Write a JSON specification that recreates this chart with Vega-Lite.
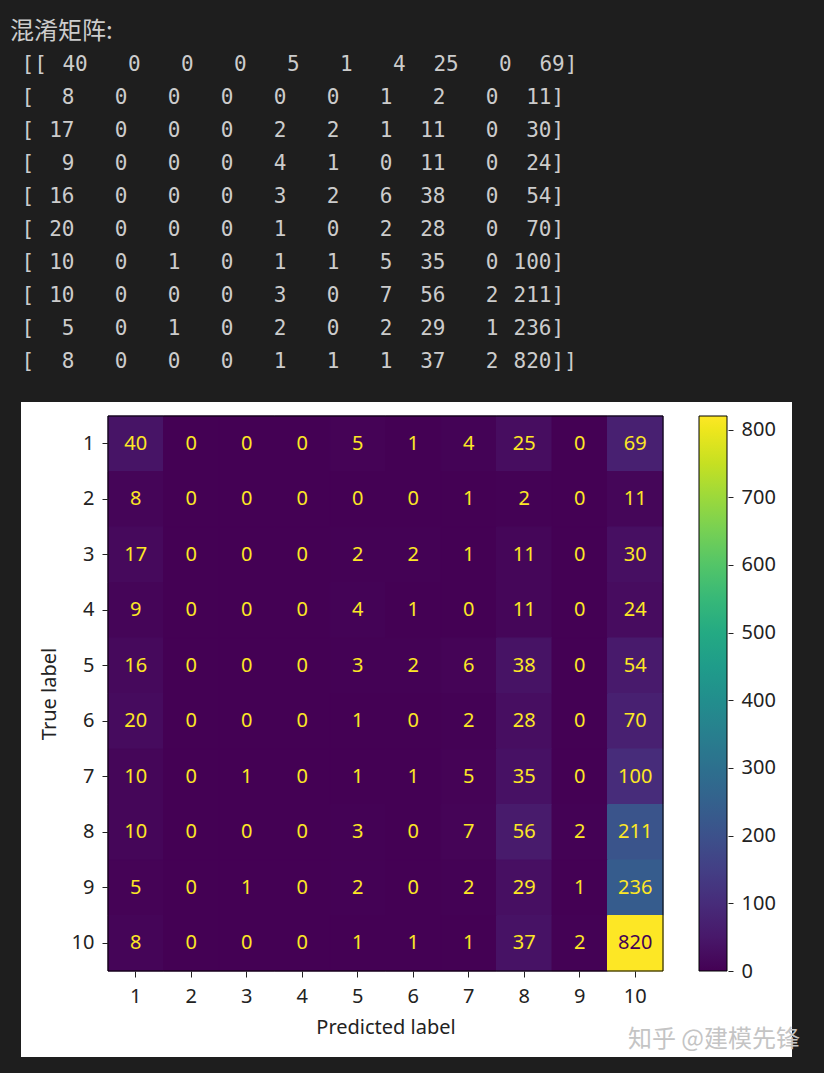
{
  "$schema": "https://vega.github.io/schema/vega-lite/v6.json",
  "width": 555,
  "height": 555,
  "autosize": "none",
  "padding": {"left": 108, "top": 416, "right": 161, "bottom": 102},
  "background": "#1e1e1e",
  "config": {
    "view": {"stroke": null},
    "axis": {"grid": false, "labelFont": "Noto Sans", "titleFont": "Noto Sans", "labelColor": "#222222", "titleColor": "#222222", "tickColor": "#222222", "labelFontSize": 20, "titleFontSize": 20, "titleFontWeight": "normal", "tickSize": 6, "domain": false}
  },
  "datasets": {
    "cm": [
      {"t":1,"p":1,"n":40},{"t":1,"p":2,"n":0},{"t":1,"p":3,"n":0},{"t":1,"p":4,"n":0},{"t":1,"p":5,"n":5},{"t":1,"p":6,"n":1},{"t":1,"p":7,"n":4},{"t":1,"p":8,"n":25},{"t":1,"p":9,"n":0},{"t":1,"p":10,"n":69},
      {"t":2,"p":1,"n":8},{"t":2,"p":2,"n":0},{"t":2,"p":3,"n":0},{"t":2,"p":4,"n":0},{"t":2,"p":5,"n":0},{"t":2,"p":6,"n":0},{"t":2,"p":7,"n":1},{"t":2,"p":8,"n":2},{"t":2,"p":9,"n":0},{"t":2,"p":10,"n":11},
      {"t":3,"p":1,"n":17},{"t":3,"p":2,"n":0},{"t":3,"p":3,"n":0},{"t":3,"p":4,"n":0},{"t":3,"p":5,"n":2},{"t":3,"p":6,"n":2},{"t":3,"p":7,"n":1},{"t":3,"p":8,"n":11},{"t":3,"p":9,"n":0},{"t":3,"p":10,"n":30},
      {"t":4,"p":1,"n":9},{"t":4,"p":2,"n":0},{"t":4,"p":3,"n":0},{"t":4,"p":4,"n":0},{"t":4,"p":5,"n":4},{"t":4,"p":6,"n":1},{"t":4,"p":7,"n":0},{"t":4,"p":8,"n":11},{"t":4,"p":9,"n":0},{"t":4,"p":10,"n":24},
      {"t":5,"p":1,"n":16},{"t":5,"p":2,"n":0},{"t":5,"p":3,"n":0},{"t":5,"p":4,"n":0},{"t":5,"p":5,"n":3},{"t":5,"p":6,"n":2},{"t":5,"p":7,"n":6},{"t":5,"p":8,"n":38},{"t":5,"p":9,"n":0},{"t":5,"p":10,"n":54},
      {"t":6,"p":1,"n":20},{"t":6,"p":2,"n":0},{"t":6,"p":3,"n":0},{"t":6,"p":4,"n":0},{"t":6,"p":5,"n":1},{"t":6,"p":6,"n":0},{"t":6,"p":7,"n":2},{"t":6,"p":8,"n":28},{"t":6,"p":9,"n":0},{"t":6,"p":10,"n":70},
      {"t":7,"p":1,"n":10},{"t":7,"p":2,"n":0},{"t":7,"p":3,"n":1},{"t":7,"p":4,"n":0},{"t":7,"p":5,"n":1},{"t":7,"p":6,"n":1},{"t":7,"p":7,"n":5},{"t":7,"p":8,"n":35},{"t":7,"p":9,"n":0},{"t":7,"p":10,"n":100},
      {"t":8,"p":1,"n":10},{"t":8,"p":2,"n":0},{"t":8,"p":3,"n":0},{"t":8,"p":4,"n":0},{"t":8,"p":5,"n":3},{"t":8,"p":6,"n":0},{"t":8,"p":7,"n":7},{"t":8,"p":8,"n":56},{"t":8,"p":9,"n":2},{"t":8,"p":10,"n":211},
      {"t":9,"p":1,"n":5},{"t":9,"p":2,"n":0},{"t":9,"p":3,"n":1},{"t":9,"p":4,"n":0},{"t":9,"p":5,"n":2},{"t":9,"p":6,"n":0},{"t":9,"p":7,"n":2},{"t":9,"p":8,"n":29},{"t":9,"p":9,"n":1},{"t":9,"p":10,"n":236},
      {"t":10,"p":1,"n":8},{"t":10,"p":2,"n":0},{"t":10,"p":3,"n":0},{"t":10,"p":4,"n":0},{"t":10,"p":5,"n":1},{"t":10,"p":6,"n":1},{"t":10,"p":7,"n":1},{"t":10,"p":8,"n":37},{"t":10,"p":9,"n":2},{"t":10,"p":10,"n":820}
    ],
    "brackets": [
      {"t":1,"open":"[[","close":"]"},{"t":2,"open":"[","close":"]"},{"t":3,"open":"[","close":"]"},{"t":4,"open":"[","close":"]"},{"t":5,"open":"[","close":"]"},
      {"t":6,"open":"[","close":"]"},{"t":7,"open":"[","close":"]"},{"t":8,"open":"[","close":"]"},{"t":9,"open":"[","close":"]"},{"t":10,"open":"[","close":"]]"}
    ],
    "heading": [{"s": "混淆矩阵:"}],
    "watermark": [{"s": "知乎 @建模先锋"}],
    "cbar": [{"lo": 0, "hi": 820}]
  },
  "layer": [
    {
      "data": {"name": "watermark"},
      "mark": {"type": "rect", "fill": "#ffffff"},
      "encoding": {
        "x": {"datum": 0, "type": "quantitative", "scale": {"domain": [0, 1], "range": [-87, 684], "nice": false, "zero": false}, "axis": null},
        "x2": {"datum": 1},
        "y": {"datum": 0, "type": "quantitative", "scale": {"domain": [0, 1], "range": [-14, 641], "nice": false, "zero": false}, "axis": null},
        "y2": {"datum": 1}
      }
    },
    {
      "data": {"name": "watermark"},
      "mark": {"type": "text", "align": "right", "baseline": "middle", "font": "Noto Sans CJK SC", "fontSize": 24, "fill": "#c4c4c4"},
      "encoding": {
        "x": {"datum": 1.0104, "type": "quantitative", "scale": {"domain": [0, 1], "range": [-87, 684], "nice": false, "zero": false}, "axis": null},
        "y": {"datum": 0.974, "type": "quantitative", "scale": {"domain": [0, 1], "range": [-14, 641], "nice": false, "zero": false}, "axis": null},
        "text": {"field": "s"}
      }
    },
    {
      "data": {"name": "heading"},
      "mark": {"type": "text", "align": "left", "baseline": "middle", "font": "Noto Sans CJK SC", "fontSize": 24, "fill": "#cccccc", "dx": -64.5},
      "encoding": {
        "x": {"datum": 1, "type": "ordinal", "scale": {"type": "point", "domain": [1,2,3,4,5,6,7,8,9,10], "range": [-33.5, 443.5], "padding": 0}, "axis": null},
        "y": {"datum": 0, "type": "ordinal", "scale": {"type": "point", "domain": [0,1,2,3,4,5,6,7,8,9,10], "range": [-384.5, -54.5], "padding": 0}, "axis": null},
        "text": {"field": "s"}
      }
    },
    {
      "data": {"name": "cm"},
      "transform": [{"filter": "datum.t == 1"}],
      "mark": {"type": "text", "align": "right", "baseline": "middle", "font": "DejaVu Sans Mono", "fontSize": 21, "fill": "#cccccc", "dx": 13.25},
      "encoding": {
        "x": {"field": "p", "type": "ordinal", "scale": {"type": "point", "domain": [1,2,3,4,5,6,7,8,9,10], "range": [-33.5, 443.5], "padding": 0}, "axis": null},
        "y": {"field": "t", "type": "ordinal", "scale": {"type": "point", "domain": [0,1,2,3,4,5,6,7,8,9,10], "range": [-384.5, -54.5], "padding": 0}, "axis": null},
        "text": {"field": "n"}
      }
    },
    {
      "data": {"name": "cm"},
      "transform": [{"filter": "datum.t > 1"}],
      "mark": {"type": "text", "align": "right", "baseline": "middle", "font": "DejaVu Sans Mono", "fontSize": 21, "fill": "#cccccc"},
      "encoding": {
        "x": {"field": "p", "type": "ordinal", "scale": {"type": "point", "domain": [1,2,3,4,5,6,7,8,9,10], "range": [-33.5, 443.5], "padding": 0}, "axis": null},
        "y": {"field": "t", "type": "ordinal", "scale": {"type": "point", "domain": [0,1,2,3,4,5,6,7,8,9,10], "range": [-384.5, -54.5], "padding": 0}, "axis": null},
        "text": {"field": "n"}
      }
    },
    {
      "data": {"name": "brackets"},
      "mark": {"type": "text", "align": "left", "baseline": "middle", "font": "DejaVu Sans Mono", "fontSize": 21, "fill": "#cccccc", "dx": -53},
      "encoding": {
        "x": {"datum": 1, "type": "ordinal", "scale": {"type": "point", "domain": [1,2,3,4,5,6,7,8,9,10], "range": [-33.5, 443.5], "padding": 0}, "axis": null},
        "y": {"field": "t", "type": "ordinal", "scale": {"type": "point", "domain": [0,1,2,3,4,5,6,7,8,9,10], "range": [-384.5, -54.5], "padding": 0}, "axis": null},
        "text": {"field": "open"}
      }
    },
    {
      "data": {"name": "brackets"},
      "transform": [{"filter": "datum.t == 1"}],
      "mark": {"type": "text", "align": "left", "baseline": "middle", "font": "DejaVu Sans Mono", "fontSize": 21, "fill": "#cccccc", "dx": 13.25},
      "encoding": {
        "x": {"datum": 10, "type": "ordinal", "scale": {"type": "point", "domain": [1,2,3,4,5,6,7,8,9,10], "range": [-33.5, 443.5], "padding": 0}, "axis": null},
        "y": {"field": "t", "type": "ordinal", "scale": {"type": "point", "domain": [0,1,2,3,4,5,6,7,8,9,10], "range": [-384.5, -54.5], "padding": 0}, "axis": null},
        "text": {"field": "close"}
      }
    },
    {
      "data": {"name": "brackets"},
      "transform": [{"filter": "datum.t > 1"}],
      "mark": {"type": "text", "align": "left", "baseline": "middle", "font": "DejaVu Sans Mono", "fontSize": 21, "fill": "#cccccc"},
      "encoding": {
        "x": {"datum": 10, "type": "ordinal", "scale": {"type": "point", "domain": [1,2,3,4,5,6,7,8,9,10], "range": [-33.5, 443.5], "padding": 0}, "axis": null},
        "y": {"field": "t", "type": "ordinal", "scale": {"type": "point", "domain": [0,1,2,3,4,5,6,7,8,9,10], "range": [-384.5, -54.5], "padding": 0}, "axis": null},
        "text": {"field": "close"}
      }
    },
    {
      "data": {"name": "cm"},
      "mark": {"type": "rect", "strokeWidth": 1, "stroke": {"expr": "scale('color', datum.n)"}},
      "encoding": {
        "x": {"field": "p", "type": "ordinal", "scale": {"type": "band", "domain": [1,2,3,4,5,6,7,8,9,10], "padding": 0},
              "axis": {"orient": "bottom", "zindex": 2, "title": "Predicted label", "labelAngle": 0, "labelPadding": 9, "titlePadding": 11}},
        "y": {"field": "t", "type": "ordinal", "scale": {"type": "band", "domain": [1,2,3,4,5,6,7,8,9,10], "padding": 0},
              "axis": {"orient": "left", "zindex": 2, "title": "True label", "labelPadding": 8, "titlePadding": 12}},
        "color": {"field": "n", "type": "quantitative",
                  "scale": {"scheme": "viridis", "domain": [0, 820], "nice": false, "zero": true},
                  "legend": {"type": "gradient", "orient": "none", "legendX": 591, "legendY": 0, "direction": "vertical", "title": null,
                             "gradientLength": 555, "gradientThickness": 28, "gradientStrokeColor": "#000000", "gradientStrokeWidth": 1,
                             "labelExpr": "''", "padding": 0}}
      }
    },
    {
      "data": {"name": "cm"},
      "mark": {"type": "text", "font": "Noto Sans", "fontSize": 20, "baseline": "middle"},
      "encoding": {
        "x": {"field": "p", "type": "ordinal", "scale": {"type": "band", "domain": [1,2,3,4,5,6,7,8,9,10], "padding": 0}, "axis": null},
        "y": {"field": "t", "type": "ordinal", "scale": {"type": "band", "domain": [1,2,3,4,5,6,7,8,9,10], "padding": 0}, "axis": null},
        "text": {"field": "n"},
        "color": {"condition": {"test": "datum.n > 410", "value": "#440154"}, "value": "#fde725"}
      }
    },
    {
      "data": {"name": "cbar"},
      "mark": {"type": "rect", "fillOpacity": 0, "stroke": "#000000", "strokeWidth": 1},
      "encoding": {
        "x": {"datum": 0, "type": "quantitative", "scale": {"domain": [0, 1], "nice": false, "zero": false}, "axis": null},
        "x2": {"datum": 1},
        "y": {"field": "lo", "type": "quantitative", "scale": {"domain": [0, 820], "nice": false, "zero": true},
              "axis": {"orient": "right", "zindex": 2, "offset": 65, "values": [0,100,200,300,400,500,600,700,800], "tickSize": 5, "labelPadding": 8, "title": null, "labelFlush": false, "labelOverlap": false, "labelBound": false}},
        "y2": {"field": "hi"}
      }
    }
  ],
  "resolve": {"scale": {"x": "independent", "y": "independent"}, "axis": {"x": "independent", "y": "independent"}}
}
